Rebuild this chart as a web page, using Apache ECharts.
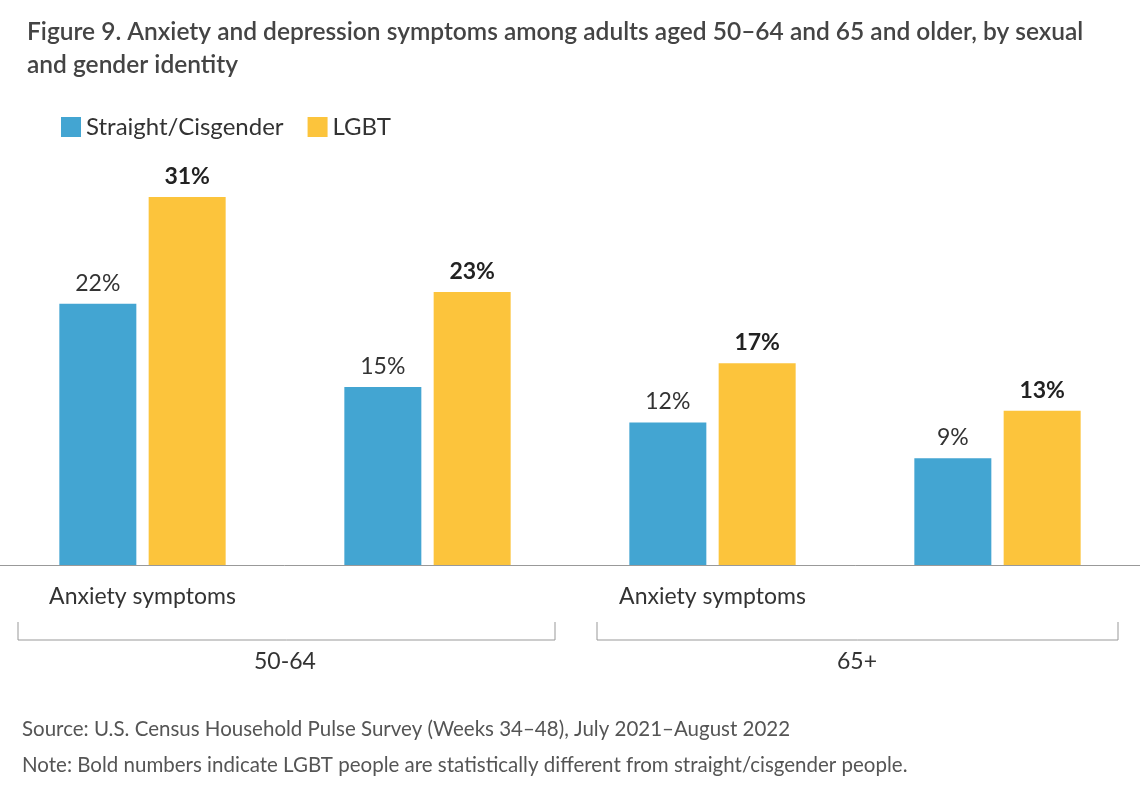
<!DOCTYPE html>
<html>
<head>
<meta charset="utf-8">
<script src="https://cdn.jsdelivr.net/npm/echarts@6/dist/echarts.min.js"></script>
<style>html,body{margin:0;background:#fff}#chart{width:1140px;height:795px}</style>
</head>
<body>
<div id="chart"></div>
<script>
// 数据
const categories = ["Anxiety symptoms", "Depression symptoms", "Anxiety symptoms", "Depression symptoms"];
const straightValues = [22, 15, 12, 9];
const lgbtValues = [31, 23, 17, 13];
const groupLabels = ["50-64", "65+"];

const font = "Lato, 'Open Sans', sans-serif";
var myChart = echarts.init(document.getElementById("chart"));

// 括号
const bracket = (x1, x2) => ({
  type: "polyline",
  shape: { points: [[x1, 622], [x1, 640], [x2, 640], [x2, 622]] },
  style: { stroke: "#999", lineWidth: 1, fill: null }
});

myChart.setOption({
  animation: false,
  textStyle: { fontFamily: font },
  title: {
    text: "Figure 9. Anxiety and depression symptoms among adults aged 50\u201364 and 65 and older, by sexual\nand gender identity",
    left: 22, top: 11,
    textStyle: { fontSize: 24.5, fontWeight: 600, color: "#444", lineHeight: 33, fontFamily: font }
  },
  legend: {
    left: 56, top: 110, itemWidth: 20, itemHeight: 20, itemGap: 24,
    icon: "rect",
    textStyle: { fontSize: 24, color: "#333" },
    data: ["Straight/Cisgender", "LGBT"]
  },
  grid: { left: 0, right: 0, top: 197, bottom: 230 },
  xAxis: {
    type: "category",
    data: categories,
    axisTick: { show: false },
    axisLine: { lineStyle: { color: "#999" } },
    axisLabel: { fontSize: 23, color: "#333", margin: 20 }
  },
  yAxis: { type: "value", min: 0, max: 31, show: false, splitLine: { show: false } },
  series: [
    {
      name: "Straight/Cisgender", type: "bar", data: straightValues,
      barWidth: 77, barGap: "16%",
      itemStyle: { color: "#43a5d2" },
      label: { show: true, position: "top", distance: 9, formatter: "{c}%", fontSize: 23, color: "#333" }
    },
    {
      name: "LGBT", type: "bar", data: lgbtValues,
      barWidth: 77,
      itemStyle: { color: "#fcc43c" },
      label: { show: true, position: "top", distance: 9, formatter: "{c}%", fontSize: 23, fontWeight: "bold", color: "#222" }
    }
  ],
  graphic: [
    bracket(18, 555),
    bracket(597, 1118),
    { type: "text", left: 254, top: 650, style: { text: groupLabels[0], fontSize: 23, fill: "#333", fontFamily: font } },
    { type: "text", left: 837, top: 650, style: { text: groupLabels[1], fontSize: 23, fill: "#333", fontFamily: font } },
    { type: "text", left: 22, top: 719, style: { text: "Source: U.S. Census Household Pulse Survey (Weeks 34\u201348), July 2021\u2013August 2022", fontSize: 20.5, fill: "#555", fontFamily: font } },
    { type: "text", left: 22, top: 755, style: { text: "Note: Bold numbers indicate LGBT people are statistically different from straight/cisgender people.", fontSize: 20.5, fill: "#555", fontFamily: font } }
  ]
});
</script>
</body>
</html>
